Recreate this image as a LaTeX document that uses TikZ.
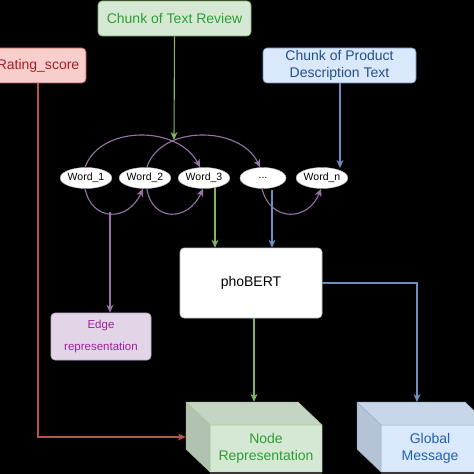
\documentclass[tikz,border=0pt]{standalone}
\usepackage{fontspec}
\setmainfont{Liberation Sans}
\usetikzlibrary{arrows.meta,shapes.geometric}
\definecolor{bgblack}{HTML}{000000}
\definecolor{gfill}{HTML}{D5E8D4}
\definecolor{gline}{HTML}{82B366}
\definecolor{gtext}{HTML}{2E9E34}
\definecolor{rfill}{HTML}{F8CECC}
\definecolor{rline}{HTML}{B85450}
\definecolor{rtext}{HTML}{A31F28}
\definecolor{bfill}{HTML}{DAE8FC}
\definecolor{bline}{HTML}{6C8EBF}
\definecolor{btext}{HTML}{24508C}
\definecolor{bmtext}{HTML}{2462B0}
\definecolor{pfill}{HTML}{E1D5E7}
\definecolor{pline}{HTML}{9673A6}
\definecolor{ptext}{HTML}{A0209E}
\definecolor{gtop}{HTML}{C4D6C3}
\definecolor{gleft}{HTML}{B2C2B1}
\definecolor{btop}{HTML}{C8D6EA}
\definecolor{bleft}{HTML}{B5C3D7}
\tikzset{
  x=1bp,y=-1bp,
  tip/.style={-{Stealth[length=8bp,width=7bp,inset=2.5bp]}},
  conn/.style={line width=1.1bp,tip},
  boxr/.style={rectangle,rounded corners=4bp,draw,line width=0.6bp,inner sep=0pt,align=center},
  word/.style={ellipse,fill=white,draw=gray!60,line width=0.4bp,minimum width=46bp,minimum height=21bp,inner sep=0pt,font=\fontsize{10.5bp}{12bp}\selectfont},
  big/.style={font=\fontsize{14bp}{17bp}\selectfont},
}
\begin{document}
\begin{tikzpicture}
\useasboundingbox (0,0) rectangle (474,474);
\fill[bgblack] (0,0) rectangle (474,474);

% top boxes
\node[boxr,big,fill=gfill,draw=gline,text=gtext,minimum width=153bp,minimum height=35bp] (ctr) at (174.5,18.5) {Chunk of Text Review};
\node[boxr,big,fill=rfill,draw=rline,text=rtext,minimum width=96bp,minimum height=35bp] (rs) at (38,65.5) {Rating\_score};
\node[boxr,big,fill=bfill,draw=bline,text=btext,minimum width=153bp,minimum height=35bp] (cpd) at (339.5,65.5) {Chunk of Product\\Description Text};

% words
\node[word] (w1) at (86,178) {Word\_1};
\node[word] (w2) at (145,178) {Word\_2};
\node[word] (w3) at (204,178) {Word\_3};
\node[word] (wd) at (263,178) {...};
\node[word] (wn) at (322,178) {Word\_n};

% phoBERT
\node[boxr,big,fill=white,draw=gray!50,text=black,minimum width=142bp,minimum height=70bp] (pb) at (251,283) {phoBERT};

% edge representation
\node[boxr,fill=pfill,draw=pline!60,text=ptext,minimum width=100bp,minimum height=47bp,font=\fontsize{11.5bp}{22bp}\selectfont] (er) at (101,336.5) {Edge\\representation};

% cubes
\fill[gfill] (210,425) rectangle (322,472);
\fill[gtop] (186,402) -- (298,402) -- (322,425) -- (210,425) -- cycle;
\fill[gleft] (186,402) -- (210,425) -- (210,472) -- (186,449) -- cycle;
\draw[gline!70,line width=0.5bp] (186,402) -- (298,402) -- (322,425) -- (322,472) -- (210,472) -- (186,449) -- cycle;
\draw[gline!70,line width=0.5bp] (186,402) -- (210,425) -- (322,425) (210,425) -- (210,472);
\fill[black!78] (210,472) rectangle (322,474);
\node[minimum width=136bp,minimum height=70bp,inner sep=0pt] (nr) at (254,437) {};
\node[big,text=gtext,align=center,inner sep=0pt] (nrt) at (266,448.5) {Node\\Representation};

\fill[bfill] (381,425) rectangle (489,472);
\fill[btop] (357,402) -- (465,402) -- (489,425) -- (381,425) -- cycle;
\fill[bleft] (357,402) -- (381,425) -- (381,472) -- (357,449) -- cycle;
\draw[bline!70,line width=0.5bp] (357,402) -- (465,402) -- (489,425) -- (489,472) -- (381,472) -- (357,449) -- cycle;
\draw[bline!70,line width=0.5bp] (357,402) -- (381,425) -- (489,425) (381,425) -- (381,472);
\fill[black!78] (381,472) rectangle (489,474);
\node[minimum width=132bp,minimum height=70bp,inner sep=0pt] (gm) at (423,437) {};
\node[big,text=bmtext,align=center,inner sep=0pt] (gmt) at (430,448.5) {Global\\Message};

% coordinates
\coordinate (gin) at (174,140);
\coordinate (bin) at (340,168);
\coordinate (e1) at (110,212);
\coordinate (g3) at (215,187);
\coordinate (bd) at (272,190);
\coordinate (pbs) at (254,318);
\coordinate (gmtop) at (417,402);

% purple arcs
\draw[conn,pline] (w1.95) .. controls (100,125) and (178,125) .. (w3.110);
\draw[conn,pline] (w2.80) .. controls (160,125) and (240,125) .. (wd.105);
\draw[conn,pline] (w1.-95) .. controls (92,222) and (128,222) .. (w2.-100);
\draw[conn,pline] (w2.-80) .. controls (152,222) and (188,222) .. (w3.-95);
\draw[conn,pline] (wd.-95) .. controls (270,222) and (308,222) .. (wn.-95);

% vertical connectors
\draw[conn,gline] (ctr.south) -- (gin);
\draw[conn,bline] (cpd.south -| bin) -- (bin);
\draw[conn,pline] (e1) -- (er.north -| e1);
\draw[conn,gline] (g3) -- (g3 |- pb.north);
\draw[conn,bline] (bd) -- (bd |- pb.north);
\draw[conn,gline] (pbs) -- (nr.north);
\draw[conn,bline] (pb.east) -| (gmtop);
\draw[conn,rline] (rs.south) |- (nr.west);
\end{tikzpicture}
\end{document}
